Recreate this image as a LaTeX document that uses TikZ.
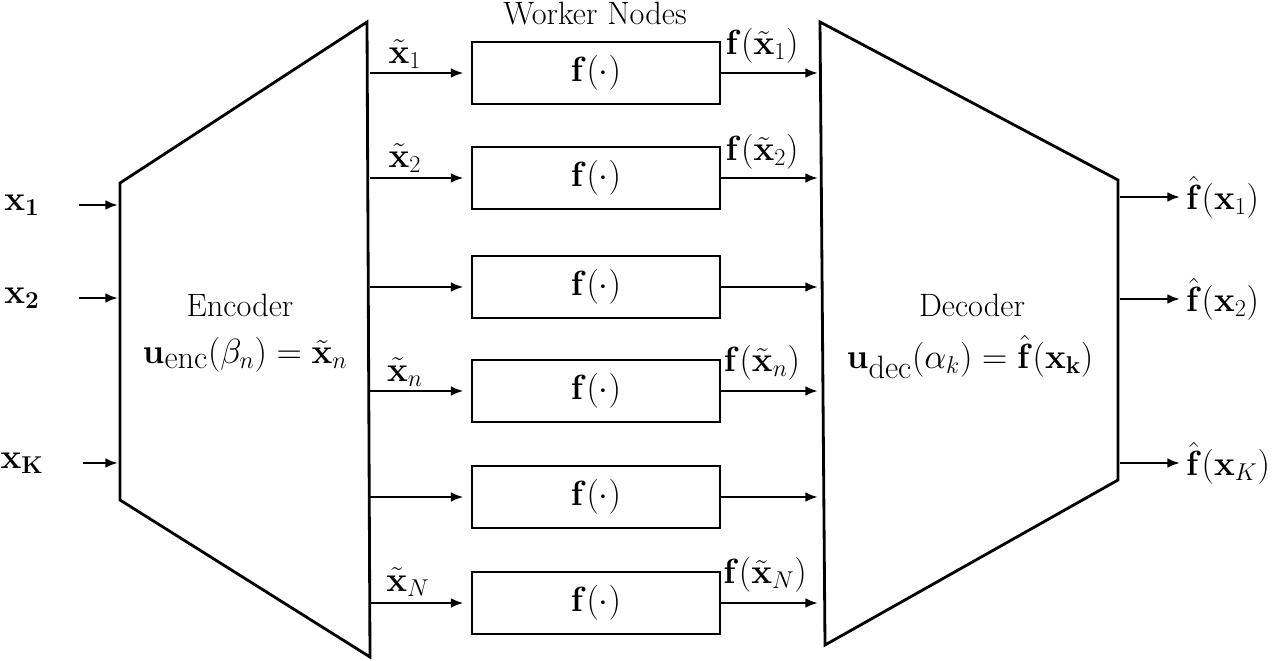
\documentclass[tikz,border=0pt]{standalone}
\usepackage{amsmath,amssymb}
\usetikzlibrary{positioning,arrows.meta}
\begin{document}
\begin{tikzpicture}[x=0.025cm,y=-0.025cm,
    line width=2pt,
    worker/.style={draw, rectangle, minimum width=6.2cm, minimum height=1.55cm, font=\fontsize{23}{27}\selectfont},
    arrow/.style={-{Latex[length=9pt,width=7pt]}},
    lbl/.style={font=\fontsize{23}{27}\selectfont}
]
    \useasboundingbox (0,0) rectangle (1280,661);
    % Encoder und Decoder
    \draw (120,183) -- (367,22) -- (370,657) -- (120,500) -- cycle;
    \draw (820,22) -- (1118,180) -- (1118,480) -- (825,645) -- cycle;
    \node[lbl] (enc) at (240,305) {Encoder};
    \node[lbl] (encf) at (245,355) {$\mathbf{u}_{\textstyle\text{enc}}(\beta_n)=\tilde{\mathbf{x}}_n$};
    \node[lbl] (dec) at (972,305) {Decoder};
    \node[lbl] (decf) at (970,357) {$\mathbf{u}_{\textstyle\text{dec}}(\alpha_k)=\hat{\mathbf{f}}(\mathbf{x_k})$};
    \node[lbl] (title) at (595,14) {Worker Nodes};

    % Worker
    \foreach \i/\y in {1/73,2/178,3/287,4/391,5/497,6/603} {
        \node[worker] (w\i) at (596,\y) {$\mathbf{f}(\cdot)$};
        \coordinate (ea\i) at (370,\y);
        \coordinate (dd\i) at (818,\y);
        \draw[arrow] (ea\i) -- ([xshift=-5]w\i.west);
        \draw[arrow] (w\i.east) -- (dd\i);
    }
    \node[lbl] at (405,54) {$\tilde{\mathbf{x}}_1$};
    \node[lbl] at (405,158) {$\tilde{\mathbf{x}}_2$};
    \node[lbl] at (405,372) {$\tilde{\mathbf{x}}_n$};
    \node[lbl] at (408,582) {$\tilde{\mathbf{x}}_N$};
    \node[lbl] at (762,46) {$\mathbf{f}(\tilde{\mathbf{x}}_1)$};
    \node[lbl] at (762,152) {$\mathbf{f}(\tilde{\mathbf{x}}_2)$};
    \node[lbl] at (762,363) {$\mathbf{f}(\tilde{\mathbf{x}}_n)$};
    \node[lbl] at (765,575) {$\mathbf{f}(\tilde{\mathbf{x}}_N)$};

    % Eingaenge
    \foreach \n/\y/\t in {1/205/\mathbf{x_1},2/298/\mathbf{x_2},3/463/\mathbf{x_K}} {
        \node[lbl] (in\n) at (22,\y) {$\t$};
        \coordinate (ei\n) at (118,\y);
        \draw[arrow] ([xshift=24]in\n.east) -- (ei\n);
    }
    % Ausgaenge
    \foreach \n/\y/\t in {1/197/\hat{\mathbf{f}}(\mathbf{x}_1),2/299/\hat{\mathbf{f}}(\mathbf{x}_2),3/463/\hat{\mathbf{f}}(\mathbf{x}_K)} {
        \coordinate (do\n) at (1120,\y);
        \node[lbl, anchor=west] (out\n) at (1180,\y) {$\t$};
        \draw[arrow] (do\n) -- (out\n.west);
    }
\end{tikzpicture}
\end{document}
